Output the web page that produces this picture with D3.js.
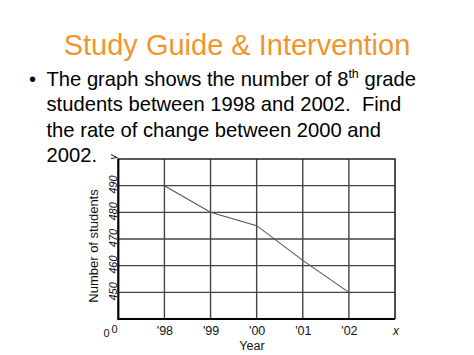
<!DOCTYPE html>
<html><head><meta charset="utf-8">
<script src="https://cdn.jsdelivr.net/npm/d3@7"></script>
<style>html,body{margin:0;padding:0;background:#fff;}svg{display:block;}text{white-space:pre;}</style>
</head><body>
<script>
// Data
const years = ["'98", "'99", "'00", "'01", "'02"];
const students = [490, 480, 475, 462, 450];
const yTicks = [450, 460, 470, 480, 490];
const bulletLines = [
  ["The graph shows the number of 8", "th", " grade"],
  ["students between 1998 and 2002.  Find"],
  ["the rate of change between 2000 and"],
  ["2002."]
];

const W = 474, H = 355;
const svg = d3.select("body").append("svg").attr("width", W).attr("height", H)
  .style("font-family", "'Liberation Sans', Arial, sans-serif");
svg.append("rect").attr("width", W).attr("height", H).attr("fill", "#fff");

// Title
svg.append("text").attr("x", 237).attr("y", 55).attr("text-anchor", "middle")
  .attr("font-size", 29).attr("fill", "#F0962C").text("Study Guide & Intervention");

// Bullet
svg.append("text").attr("x", 29).attr("y", 86).attr("font-size", 20).text("\u2022");
bulletLines.forEach((ln, i) => {
  const t = svg.append("text").attr("x", 46.5).attr("y", 86 + i * 25.3)
    .attr("font-size", 20.2).attr("fill", "#000").attr("xml:space", "preserve");
  t.append("tspan").text(ln[0]);
  if (ln.length > 1) {
    t.append("tspan").attr("font-size", 12.5).attr("dy", -8).text(ln[1]);
    t.append("tspan").attr("dy", 8).text(ln[2]);
  }
});

// Scales
const x = d3.scaleLinear().domain([0, 6]).range([118.3, 395]);
const y = d3.scaleLinear().domain([440, 500]).range([319, 159]);

// Grid
const g = svg.append("g");
g.selectAll(".vg").data(d3.range(1, 6)).join("line")
  .attr("x1", d => x(d)).attr("x2", d => x(d)).attr("y1", y(500)).attr("y2", y(440))
  .attr("stroke", "#444").attr("stroke-width", 1.4);
g.selectAll(".hg").data(yTicks).join("line")
  .attr("x1", x(0)).attr("x2", x(6)).attr("y1", d => y(d)).attr("y2", d => y(d))
  .attr("stroke", "#444").attr("stroke-width", 1.4);
g.append("path").attr("d", `M${x(0)},${y(500)}H${x(6)}V${y(440)}`)
  .attr("fill", "none").attr("stroke", "#222").attr("stroke-width", 1.6);
g.append("path").attr("d", `M${x(0)},${y(500)}V${y(440)}H${x(6)}`)
  .attr("fill", "none").attr("stroke", "#000").attr("stroke-width", 2.2);

// Data line
const line = d3.line().x((d, i) => x(i + 1)).y(d => y(d));
svg.append("path").datum(students).attr("d", line)
  .attr("fill", "none").attr("stroke", "#555").attr("stroke-width", 1.1);

// X axis labels
const xAxis = d3.axisBottom(x).tickValues(d3.range(1, 6)).tickFormat(d => years[d - 1])
  .tickSize(0).tickPadding(7);
const xa = svg.append("g").attr("transform", `translate(0,${y(440)})`).call(xAxis);
xa.select(".domain").remove();
xa.selectAll("text").attr("font-size", 12.5).attr("fill", "#111")
  .style("font-family", "'Liberation Sans', Arial, sans-serif");

// Y tick labels (rotated)
svg.selectAll(".yl").data(yTicks).join("text")
  .attr("transform", d => `translate(112.5,${y(d) - 1}) rotate(-90)`)
  .attr("text-anchor", "middle").attr("dominant-baseline", "central")
  .attr("font-size", 11).attr("font-style", "italic").attr("fill", "#111").text(d => d);

// Axis titles
svg.append("text").attr("transform", "translate(93,246) rotate(-90)")
  .attr("text-anchor", "middle").attr("dominant-baseline", "central")
  .attr("font-size", 13).attr("fill", "#111").text("Number of students");
svg.append("text").attr("x", 252).attr("y", 350).attr("text-anchor", "middle")
  .attr("font-size", 12.5).attr("fill", "#111").text("Year");

// origin, x, y markers
svg.append("text").attr("x", 106.5).attr("y", 337).attr("text-anchor", "middle")
  .attr("font-size", 11).attr("fill", "#111").text("0");
svg.append("text").attr("x", 114.5).attr("y", 333).attr("text-anchor", "middle")
  .attr("font-size", 11).attr("fill", "#111").text("0");
svg.append("text").attr("x", 396).attr("y", 335).attr("text-anchor", "middle")
  .attr("font-size", 12).attr("font-style", "italic").attr("fill", "#111").text("x");
svg.append("text").attr("transform", "translate(113,157) rotate(-90)")
  .attr("text-anchor", "middle").attr("dominant-baseline", "central")
  .attr("font-size", 10).attr("font-style", "italic").attr("fill", "#111").text("y");
</script>
</body></html>
